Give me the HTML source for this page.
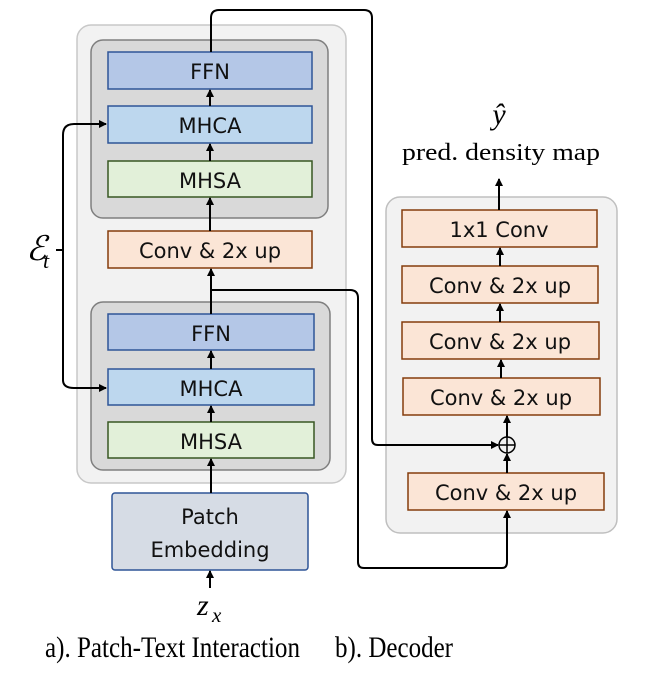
<!DOCTYPE html>
<html><head><meta charset="utf-8"><style>
html,body{margin:0;padding:0;background:#fff;}
svg text{font-family:"DejaVu Sans","Liberation Sans",sans-serif;}
.s{font-family:"Liberation Serif",serif !important;}
</style></head><body>
<svg width="659" height="674" viewBox="0 0 659 674" xmlns="http://www.w3.org/2000/svg">
<defs><marker id="a" markerWidth="8" markerHeight="8" refX="7" refY="4" orient="auto" markerUnits="userSpaceOnUse"><path d="M0,0 L8,4 L0,8 z" fill="#000"/></marker></defs>
<rect x="77" y="25" width="269" height="458" rx="14" fill="#f2f2f2" stroke="#c8c8c8" stroke-width="1.5"/>
<rect x="91" y="40" width="237" height="178" rx="12" fill="#d9d9d9" stroke="#7f7f7f" stroke-width="1.5"/>
<rect x="91" y="302" width="239" height="168" rx="12" fill="#d9d9d9" stroke="#7f7f7f" stroke-width="1.5"/>
<g stroke-width="1.5" font-size="21" text-anchor="middle">
<rect x="108" y="52" width="204" height="37" fill="#b4c7e7" stroke="#2f5597"/><text x="210" y="79" fill="#111">FFN</text>
<rect x="108" y="106" width="204" height="37" fill="#bdd7ee" stroke="#2f5597"/><text x="210" y="133" fill="#111">MHCA</text>
<rect x="108" y="161" width="204" height="36" fill="#e2f0d9" stroke="#385723"/><text x="210" y="188" fill="#111">MHSA</text>
<rect x="108" y="231" width="204" height="37" fill="#fbe5d6" stroke="#843c0c"/><text x="210" y="258" fill="#111">Conv &amp; 2x up</text>
<rect x="108" y="314" width="206" height="36" fill="#b4c7e7" stroke="#2f5597"/><text x="211" y="341" fill="#111">FFN</text>
<rect x="108" y="369" width="206" height="36" fill="#bdd7ee" stroke="#2f5597"/><text x="211" y="396" fill="#111">MHCA</text>
<rect x="108" y="422" width="206" height="36" fill="#e2f0d9" stroke="#385723"/><text x="211" y="449" fill="#111">MHSA</text>
<rect x="112" y="493" width="196" height="77" rx="3" fill="#d6dce5" stroke="#2f5597"/><text x="210" y="524" fill="#111">Patch</text><text x="210" y="557" fill="#111">Embedding</text>
</g>
<rect x="386" y="197" width="231" height="336" rx="14" fill="#f2f2f2" stroke="#bfbfbf" stroke-width="1.5"/>
<g stroke-width="1.5" font-size="21" text-anchor="middle">
<rect x="402" y="210" width="195" height="37" fill="#fbe5d6" stroke="#843c0c"/><text x="499" y="237" fill="#111">1x1 Conv</text>
<rect x="402" y="266" width="196" height="37" fill="#fbe5d6" stroke="#843c0c"/><text x="500" y="293" fill="#111">Conv &amp; 2x up</text>
<rect x="402" y="322" width="197" height="37" fill="#fbe5d6" stroke="#843c0c"/><text x="500" y="349" fill="#111">Conv &amp; 2x up</text>
<rect x="403" y="378" width="197" height="37" fill="#fbe5d6" stroke="#843c0c"/><text x="501" y="405" fill="#111">Conv &amp; 2x up</text>
<rect x="408" y="473" width="196" height="37" fill="#fbe5d6" stroke="#843c0c"/><text x="506" y="500" fill="#111">Conv &amp; 2x up</text>
</g>
<g stroke="#000" stroke-width="2" fill="none">
<line x1="210" y1="106" x2="210" y2="90" marker-end="url(#a)"/>
<line x1="210" y1="161" x2="210" y2="144" marker-end="url(#a)"/>
<line x1="210" y1="231" x2="210" y2="198" marker-end="url(#a)"/>
<line x1="211" y1="314" x2="211" y2="269" marker-end="url(#a)"/>
<line x1="211" y1="369" x2="211" y2="351" marker-end="url(#a)"/>
<line x1="211" y1="422" x2="211" y2="406" marker-end="url(#a)"/>
<line x1="211" y1="493" x2="211" y2="459" marker-end="url(#a)"/>
<line x1="210" y1="588" x2="210" y2="571" marker-end="url(#a)"/>
<line x1="499" y1="210" x2="499" y2="179" marker-end="url(#a)"/>
<line x1="500" y1="266" x2="500" y2="248" marker-end="url(#a)"/>
<line x1="500" y1="322" x2="500" y2="304" marker-end="url(#a)"/>
<line x1="501" y1="378" x2="501" y2="360" marker-end="url(#a)"/>
<line x1="507" y1="437" x2="507" y2="416" marker-end="url(#a)"/>
<line x1="507" y1="473" x2="507" y2="454" marker-end="url(#a)"/>
<circle cx="507" cy="445" r="8" stroke-width="1.5"/>
<line x1="499" y1="445" x2="515" y2="445" stroke-width="1.5"/><line x1="507" y1="437" x2="507" y2="453" stroke-width="1.5"/>
<path d="M211,52 V18 Q211,10 219,10 H364 Q372,10 372,18 V439 Q372,445 378,445 H498" marker-end="url(#a)"/>
<path d="M211,290 H350 Q358,290 358,298 V562 Q358,568 364,568 H502 Q507,568 507,562 V511" marker-end="url(#a)"/>
<path d="M63,250 V135 Q63,124 74,124 L106,124" marker-end="url(#a)"/>
<path d="M63,250 V380 Q63,388 74,388 L106,388" marker-end="url(#a)"/>
<line x1="56" y1="250" x2="63" y2="250"/>
</g>
<text class="s" x="26" y="260" font-size="34" font-style="italic">ℰ</text><text class="s" x="43" y="268" font-size="22" font-style="italic">t</text>
<text class="s" x="499" y="124" font-size="30" font-style="italic" text-anchor="middle">ŷ</text>
<text class="s" x="402" y="160" font-size="24" textLength="198" lengthAdjust="spacingAndGlyphs">pred. density map</text>
<text class="s" x="197" y="615" font-size="30" font-style="italic">z</text><text class="s" x="212" y="622" font-size="21" font-style="italic">x</text>
<text class="s" x="45" y="657" font-size="30" textLength="255" lengthAdjust="spacingAndGlyphs">a). Patch-Text Interaction</text>
<text class="s" x="335" y="657" font-size="30" textLength="118" lengthAdjust="spacingAndGlyphs">b). Decoder</text>
</svg>
</body></html>
